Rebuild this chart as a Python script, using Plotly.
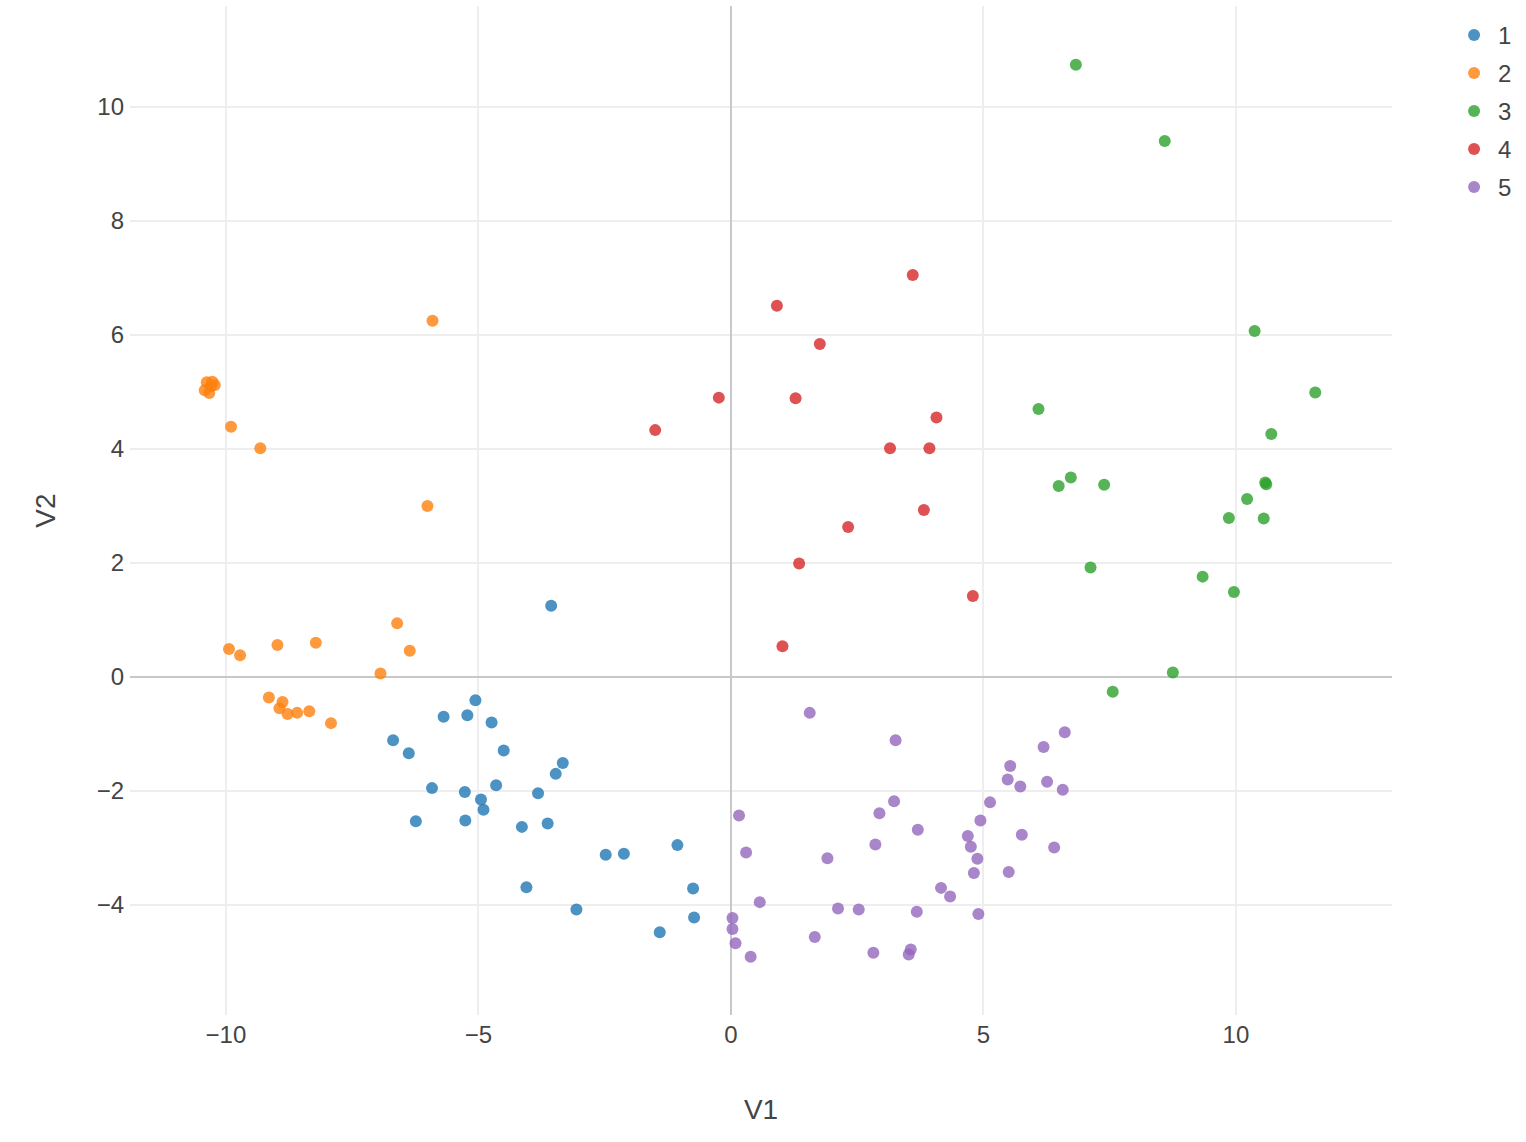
import plotly.graph_objects as go

# cluster point coordinates
v1_c1 = [-3.56, -5.06, -5.69, -5.22, -4.74, -6.69, -6.38, -4.50, -3.33, -3.47,
         -5.92, -5.27, -4.65, -3.82, -4.95, -4.90, -6.24, -5.26, -4.14, -3.63,
         -2.48, -2.12, -1.06, -4.05, -0.75, -3.06, -0.73, -1.41]
v2_c1 = [1.25, -0.41, -0.70, -0.67, -0.80, -1.11, -1.34, -1.29, -1.51, -1.70,
         -1.95, -2.02, -1.90, -2.04, -2.15, -2.33, -2.53, -2.52, -2.63, -2.57,
         -3.12, -3.10, -2.95, -3.69, -3.71, -4.08, -4.22, -4.48]

v1_c2 = [-5.91, -10.38, -10.27, -10.42, -10.33, -10.22, -10.30, -9.90, -9.32, -6.01,
         -6.61, -9.94, -9.72, -8.98, -8.22, -6.36, -6.94, -9.15, -8.88, -8.94,
         -8.78, -8.59, -8.35, -7.92]
v2_c2 = [6.25, 5.17, 5.18, 5.03, 4.98, 5.12, 5.10, 4.39, 4.01, 3.00,
         0.94, 0.49, 0.38, 0.56, 0.60, 0.46, 0.06, -0.36, -0.44, -0.55,
         -0.65, -0.63, -0.60, -0.81]

v1_c3 = [6.83, 8.59, 10.37, 11.57, 6.09, 10.70, 6.73, 6.49, 7.39, 10.58,
         10.60, 10.22, 9.86, 10.55, 7.12, 9.34, 9.96, 8.75, 7.56]
v2_c3 = [10.74, 9.40, 6.07, 4.99, 4.70, 4.26, 3.50, 3.35, 3.37, 3.41,
         3.38, 3.12, 2.79, 2.78, 1.92, 1.76, 1.49, 0.08, -0.26]

v1_c4 = [3.60, 0.91, 1.76, -0.24, 1.28, -1.50, 4.07, 3.15, 3.93, 3.82,
         2.32, 1.35, 4.79, 1.02]
v2_c4 = [7.05, 6.51, 5.84, 4.90, 4.89, 4.33, 4.55, 4.01, 4.01, 2.93,
         2.63, 1.99, 1.42, 0.54]

v1_c5 = [1.56, 3.26, 6.61, 6.19, 5.53, 5.48, 5.73, 6.26, 6.57, 3.23,
         5.13, 2.94, 0.16, 4.94, 3.70, 4.69, 5.76, 4.75, 2.86, 6.40,
         0.30, 1.91, 4.88, 4.81, 5.50, 4.16, 4.34, 0.57, 2.12, 2.53,
         3.68, 4.90, 0.03, 0.03, 1.66, 0.09, 2.82, 3.56, 3.52, 0.39]
v2_c5 = [-0.63, -1.11, -0.97, -1.23, -1.56, -1.80, -1.92, -1.84, -1.98, -2.18,
         -2.20, -2.39, -2.43, -2.52, -2.68, -2.79, -2.77, -2.98, -2.94, -2.99,
         -3.08, -3.18, -3.19, -3.44, -3.42, -3.70, -3.85, -3.95, -4.06, -4.08,
         -4.12, -4.16, -4.23, -4.42, -4.56, -4.67, -4.84, -4.78, -4.87, -4.91]

clusters = ['1', '2', '3', '4', '5']
xs = [v1_c1, v1_c2, v1_c3, v1_c4, v1_c5]
ys = [v2_c1, v2_c2, v2_c3, v2_c4, v2_c5]
colors = ['#1f77b4', '#ff7f0e', '#2ca02c', '#d62728', '#9467bd']

fig = go.Figure()
legends = {}
for i, (name, x, y, col) in enumerate(zip(clusters, xs, ys, colors)):
    # one single-entry legend per cluster so the row spacing can be set exactly
    key = 'legend' if i == 0 else f'legend{i + 1}'
    fig.add_trace(go.Scatter(
        x=x, y=y,
        mode='markers',
        name=name,
        legend=key,
        marker=dict(size=12, color=col, opacity=0.8),
    ))
    legends[key] = dict(font=dict(size=24, color='#444'), itemwidth=38,
                        x=1.046, y=1 - (7 + 38 * i) / 1009,
                        xanchor='left', yanchor='top')

axis_style = dict(
    showgrid=True, gridcolor='#eeeeee', gridwidth=2,
    zeroline=True, zerolinecolor='#c8c8c8', zerolinewidth=2,
    showline=False, ticks='',
    tickfont=dict(size=24, color='#444'),
    title_font=dict(size=28, color='#444'),
    automargin=False,
)

fig.update_layout(
    template='none',
    width=1526,
    height=1142,
    font=dict(family='Arial, "Liberation Sans", sans-serif', size=24, color='#444'),
    paper_bgcolor='white',
    plot_bgcolor='white',
    margin=dict(l=130, r=134, t=6, b=127),
    xaxis=dict(title_text='V1', title_standoff=52, ticklabelstandoff=3,
               range=[-11.90, 13.09], dtick=5, **axis_style),
    yaxis=dict(title_text='V2', title_standoff=32, ticklabelstandoff=5,
               range=[-5.93, 11.77], dtick=2, **axis_style),
    showlegend=True,
    **legends,
)

# drop the default 8px page margin so the figure sits at the window origin
fig.write_html("out.html", config={'displayModeBar': False},
               post_script="document.body.style.margin='0';")
